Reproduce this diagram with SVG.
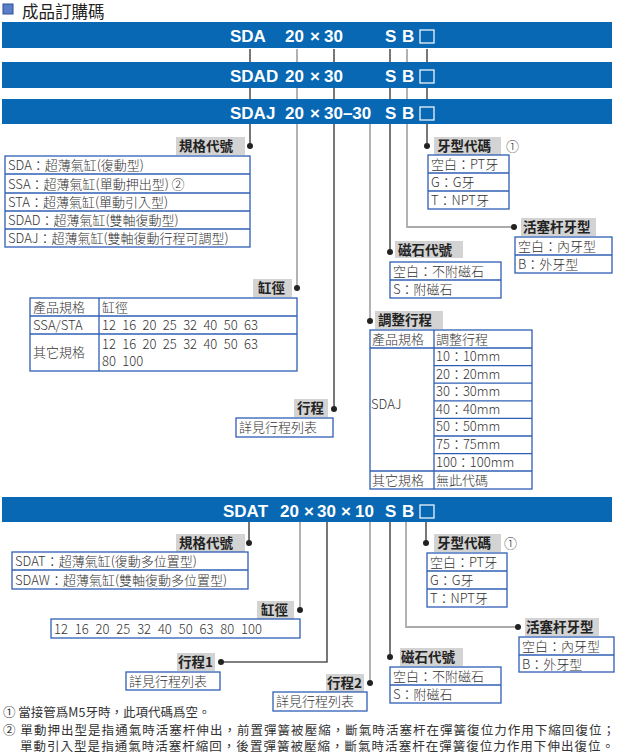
<svg xmlns="http://www.w3.org/2000/svg" width="617" height="756" viewBox="0 0 617 756">
<style>
.bar{fill:#0868b3}
.bt{font-family:"Liberation Sans",Arial,sans-serif;font-weight:bold;font-size:17px;fill:#fff}
.bx{fill:none;stroke:#fff;stroke-width:1.2}
.dk{stroke:#555;stroke-width:1.6;fill:none}
.lt{stroke:#aaa;stroke-width:1.8;fill:none}
.dot{fill:#222}
.lb{fill:#d3d3d3}
.lt2{font-family:"Noto Sans CJK TC","Noto Sans CJK SC",sans-serif;font-weight:bold;font-size:13.5px;fill:#222}
.tb{fill:#fff;stroke:#2f5fb5;stroke-width:1.3}
.tl{stroke:#2f5fb5;stroke-width:1.3}
.t{font-family:"Noto Sans CJK TC","Noto Sans CJK SC",sans-serif;font-size:13px;font-weight:300;fill:#333}
.n{font-family:"Noto Sans CJK TC","Noto Sans CJK SC",sans-serif;font-size:12.5px;fill:#333}
</style>
<g id="title">
<rect x="3" y="4" width="10" height="10" fill="#5a7fc8" stroke="#2c4f9a"/>
<text x="22" y="18" font-family="Noto Sans CJK TC,sans-serif" font-size="16.5" fill="#222">成品訂購碼</text>
</g>
<g id="connectors">
<line class="dk" x1="250" y1="49" x2="250" y2="146"/>
<line class="lt" x1="297" y1="49" x2="297" y2="288"/>
<line class="dk" x1="334" y1="49" x2="334" y2="409"/>
<line class="lt" x1="370" y1="124" x2="370" y2="321"/>
<line class="dk" x1="390" y1="49" x2="390" y2="252"/>
<polyline class="lt" points="407,49 407,227 514,227"/>
<line class="dk" x1="427" y1="49" x2="427" y2="146"/>
<line class="dk" x1="249" y1="522" x2="249" y2="543"/>
<line class="lt" x1="300" y1="522" x2="300" y2="610"/>
<polyline class="dk" points="327,522 327,662 221,662"/>
<line class="lt" x1="370" y1="522" x2="370" y2="683"/>
<line class="dk" x1="390" y1="522" x2="390" y2="657"/>
<polyline class="lt" points="406,522 406,627 518,627"/>
<line class="dk" x1="426" y1="522" x2="426" y2="543"/>
</g>
<g id="bars">
<rect class="bar" x="2" y="22" width="610" height="26"/>
<text class="bt" x="230" y="42">SDA</text><text class="bt" x="285" y="42">20</text><text class="bt" x="310" y="42" font-size="13">×</text><text class="bt" x="324" y="42">30</text>
<text class="bt" x="385" y="42">S</text><text class="bt" x="402" y="42">B</text><rect class="bx" x="420" y="30" width="14" height="13"/>
<rect class="bar" x="2" y="62" width="610" height="26"/>
<text class="bt" x="230" y="82">SDAD</text><text class="bt" x="285" y="82">20</text><text class="bt" x="310" y="82" font-size="13">×</text><text class="bt" x="324" y="82">30</text>
<text class="bt" x="385" y="82">S</text><text class="bt" x="402" y="82">B</text><rect class="bx" x="420" y="70" width="14" height="13"/>
<rect class="bar" x="2" y="99" width="610" height="25"/>
<text class="bt" x="230" y="119">SDAJ</text><text class="bt" x="285" y="119">20</text><text class="bt" x="310" y="119" font-size="13">×</text><text class="bt" x="324" y="119">30–30</text>
<text class="bt" x="385" y="119">S</text><text class="bt" x="402" y="119">B</text><rect class="bx" x="420" y="107" width="14" height="13"/>
<rect class="bar" x="2" y="497" width="610" height="25"/>
<text class="bt" x="223" y="517">SDAT</text><text class="bt" x="280" y="517">20</text><text class="bt" x="304" y="517" font-size="13">×</text><text class="bt" x="317" y="517">30</text><text class="bt" x="341" y="517" font-size="13">×</text><text class="bt" x="355" y="517">10</text>
<text class="bt" x="385" y="517">S</text><text class="bt" x="402" y="517">B</text><rect class="bx" x="420" y="505" width="14" height="13"/>
</g>
<g id="spec1">
<circle class="dot" cx="250" cy="146" r="3"/>
<rect class="lb" x="176" y="137" width="69" height="18"/><text class="lt2" x="179" y="151">規格代號</text>
<rect class="tb" x="5" y="156" width="245" height="91"/>
<line class="tl" x1="5" y1="174" x2="250" y2="174"/><line class="tl" x1="5" y1="193" x2="250" y2="193"/><line class="tl" x1="5" y1="211" x2="250" y2="211"/><line class="tl" x1="5" y1="229" x2="250" y2="229"/>
<text class="t" x="8" y="170">SDA：超薄氣缸(復動型)</text>
<text class="t" x="8" y="189">SSA：超薄氣缸(單動押出型) ②</text>
<text class="t" x="8" y="207">STA：超薄氣缸(單動引入型)</text>
<text class="t" x="8" y="225">SDAD：超薄氣缸(雙軸復動型)</text>
<text class="t" x="8" y="243">SDAJ：超薄氣缸(雙軸復動行程可調型)</text>
</g>
<g id="thread1">
<circle class="dot" cx="427" cy="146" r="3"/>
<rect class="lb" x="434" y="137" width="67" height="18"/><text class="lt2" x="437" y="151">牙型代碼</text>
<text class="t" x="506" y="151">①</text>
<rect class="tb" x="428" y="155" width="81" height="54"/>
<line class="tl" x1="428" y1="173" x2="509" y2="173"/><line class="tl" x1="428" y1="191" x2="509" y2="191"/>
<text class="t" x="431" y="169">空白：PT牙</text><text class="t" x="431" y="187">G：G牙</text><text class="t" x="431" y="205">T：NPT牙</text>
</g>
<g id="rod1">
<circle class="dot" cx="514" cy="227" r="3"/>
<rect class="lb" x="521" y="218" width="75" height="18"/><text class="lt2" x="523" y="232">活塞杆牙型</text>
<rect class="tb" x="515" y="237" width="97" height="36"/>
<line class="tl" x1="515" y1="255" x2="612" y2="255"/>
<text class="t" x="518" y="251">空白：內牙型</text><text class="t" x="518" y="269">B：外牙型</text>
</g>
<g id="mag1">
<circle class="dot" cx="390" cy="252" r="3"/>
<rect class="lb" x="395" y="241" width="68" height="17"/><text class="lt2" x="398" y="255">磁石代號</text>
<rect class="tb" x="390" y="262" width="111" height="36"/>
<line class="tl" x1="390" y1="280" x2="501" y2="280"/>
<text class="t" x="393" y="276">空白：不附磁石</text><text class="t" x="393" y="294">S：附磁石</text>
</g>
<g id="bore1">
<circle class="dot" cx="297" cy="288" r="3"/>
<rect class="lb" x="253" y="279" width="39" height="18"/><text class="lt2" x="258" y="293">缸徑</text>
<rect class="tb" x="30" y="298" width="267" height="73"/>
<line class="tl" x1="30" y1="316" x2="297" y2="316"/><line class="tl" x1="30" y1="334" x2="297" y2="334"/><line class="tl" x1="99" y1="298" x2="99" y2="371"/>
<text class="t" x="33" y="312">產品規格</text><text class="t" x="102" y="312">缸徑</text>
<text class="t" x="33" y="330">SSA/STA</text><text class="t" x="102" y="330" word-spacing="3.5">12 16 20 25 32 40 50 63</text>
<text class="t" x="33" y="357">其它規格</text><text class="t" x="102" y="349" word-spacing="3.5">12 16 20 25 32 40 50 63</text><text class="t" x="102" y="366" word-spacing="3.5">80 100</text>
</g>
<g id="adj">
<circle class="dot" cx="370" cy="321" r="3"/>
<rect class="lb" x="375" y="311" width="68" height="18"/><text class="lt2" x="378" y="325">調整行程</text>
<rect class="tb" x="370" y="330" width="162" height="159"/>
<line class="tl" x1="434" y1="330" x2="434" y2="489"/>
<line class="tl" x1="370" y1="348" x2="532" y2="348"/><line class="tl" x1="370" y1="471" x2="532" y2="471"/>
<line class="tl" x1="434" y1="365.6" x2="532" y2="365.6"/><line class="tl" x1="434" y1="383.2" x2="532" y2="383.2"/><line class="tl" x1="434" y1="400.8" x2="532" y2="400.8"/><line class="tl" x1="434" y1="418.4" x2="532" y2="418.4"/><line class="tl" x1="434" y1="436" x2="532" y2="436"/><line class="tl" x1="434" y1="453.6" x2="532" y2="453.6"/>
<text class="t" x="372" y="344">產品規格</text><text class="t" x="436" y="344">調整行程</text>
<text class="t" x="371" y="409">SDAJ</text>
<text class="t" x="436" y="361">10：10mm</text><text class="t" x="436" y="379">20：20mm</text><text class="t" x="436" y="396">30：30mm</text><text class="t" x="436" y="414">40：40mm</text><text class="t" x="436" y="431">50：50mm</text><text class="t" x="436" y="449">75：75mm</text><text class="t" x="436" y="467">100：100mm</text>
<text class="t" x="372" y="485">其它規格</text><text class="t" x="436" y="485">無此代碼</text>
</g>
<g id="stroke1">
<circle class="dot" cx="334" cy="409" r="3"/>
<rect class="lb" x="294" y="399" width="34" height="18"/><text class="lt2" x="297" y="413">行程</text>
<rect class="tb" x="236" y="418" width="97" height="19"/><text class="t" x="239" y="432">詳見行程列表</text>
</g>
<g id="spec2">
<circle class="dot" cx="249" cy="543" r="3"/>
<rect class="lb" x="176" y="534" width="69" height="18"/><text class="lt2" x="179" y="548">規格代號</text>
<rect class="tb" x="12" y="552" width="236" height="37"/>
<line class="tl" x1="12" y1="570" x2="248" y2="570"/>
<text class="t" x="15" y="566">SDAT：超薄氣缸(復動多位置型)</text>
<text class="t" x="15" y="585">SDAW：超薄氣缸(雙軸復動多位置型)</text>
</g>
<g id="bore2">
<circle class="dot" cx="300" cy="610" r="3"/>
<rect class="lb" x="257" y="601" width="37" height="18"/><text class="lt2" x="261" y="615">缸徑</text>
<rect class="tb" x="51" y="619" width="249" height="19"/>
<text class="t" x="54" y="634" word-spacing="4">12 16 20 25 32 40 50 63 80 100</text>
</g>
<g id="stroke21">
<circle class="dot" cx="221" cy="662" r="3"/>
<rect class="lb" x="177" y="653" width="38" height="18"/><text class="lt2" x="178" y="667">行程1</text>
<rect class="tb" x="126" y="672" width="94" height="18"/><text class="t" x="129" y="686">詳見行程列表</text>
</g>
<g id="stroke22">
<circle class="dot" cx="370" cy="683" r="3"/>
<rect class="lb" x="326" y="674" width="38" height="18"/><text class="lt2" x="327" y="688">行程2</text>
<rect class="tb" x="273" y="692" width="94" height="19"/><text class="t" x="276" y="706">詳見行程列表</text>
</g>
<g id="mag2">
<circle class="dot" cx="390" cy="657" r="3"/>
<rect class="lb" x="400" y="648" width="63" height="18"/><text class="lt2" x="401" y="662">磁石代號</text>
<rect class="tb" x="390" y="667" width="111" height="36"/>
<line class="tl" x1="390" y1="685" x2="501" y2="685"/>
<text class="t" x="393" y="681">空白：不附磁石</text><text class="t" x="393" y="699">S：附磁石</text>
</g>
<g id="thread2">
<circle class="dot" cx="426" cy="543" r="3"/>
<rect class="lb" x="434" y="534" width="67" height="18"/><text class="lt2" x="437" y="548">牙型代碼</text>
<text class="t" x="504" y="548">①</text>
<rect class="tb" x="427" y="553" width="80" height="54"/>
<line class="tl" x1="427" y1="571" x2="507" y2="571"/><line class="tl" x1="427" y1="589" x2="507" y2="589"/>
<text class="t" x="430" y="567">空白：PT牙</text><text class="t" x="430" y="585">G：G牙</text><text class="t" x="430" y="603">T：NPT牙</text>
</g>
<g id="rod2">
<circle class="dot" cx="518" cy="627" r="3"/>
<rect class="lb" x="525" y="618" width="74" height="18"/><text class="lt2" x="526" y="632">活塞杆牙型</text>
<rect class="tb" x="519" y="637" width="95" height="35"/>
<line class="tl" x1="519" y1="655" x2="614" y2="655"/>
<text class="t" x="522" y="651">空白：內牙型</text><text class="t" x="522" y="669">B：外牙型</text>
</g>
<g id="notes">
<text class="n" x="3" y="717">① 當接管爲M5牙時，此項代碼爲空。</text>
<text class="n" x="3" y="735" textLength="612" lengthAdjust="spacing">② 單動押出型是指通氣時活塞杆伸出，前置彈簧被壓縮，斷氣時活塞杆在彈簧復位力作用下縮回復位；</text>
<text class="n" x="20" y="751" textLength="594" lengthAdjust="spacing">單動引入型是指通氣時活塞杆縮回，後置彈簧被壓縮，斷氣時活塞杆在彈簧復位力作用下伸出復位。</text>
</g>
</svg>
